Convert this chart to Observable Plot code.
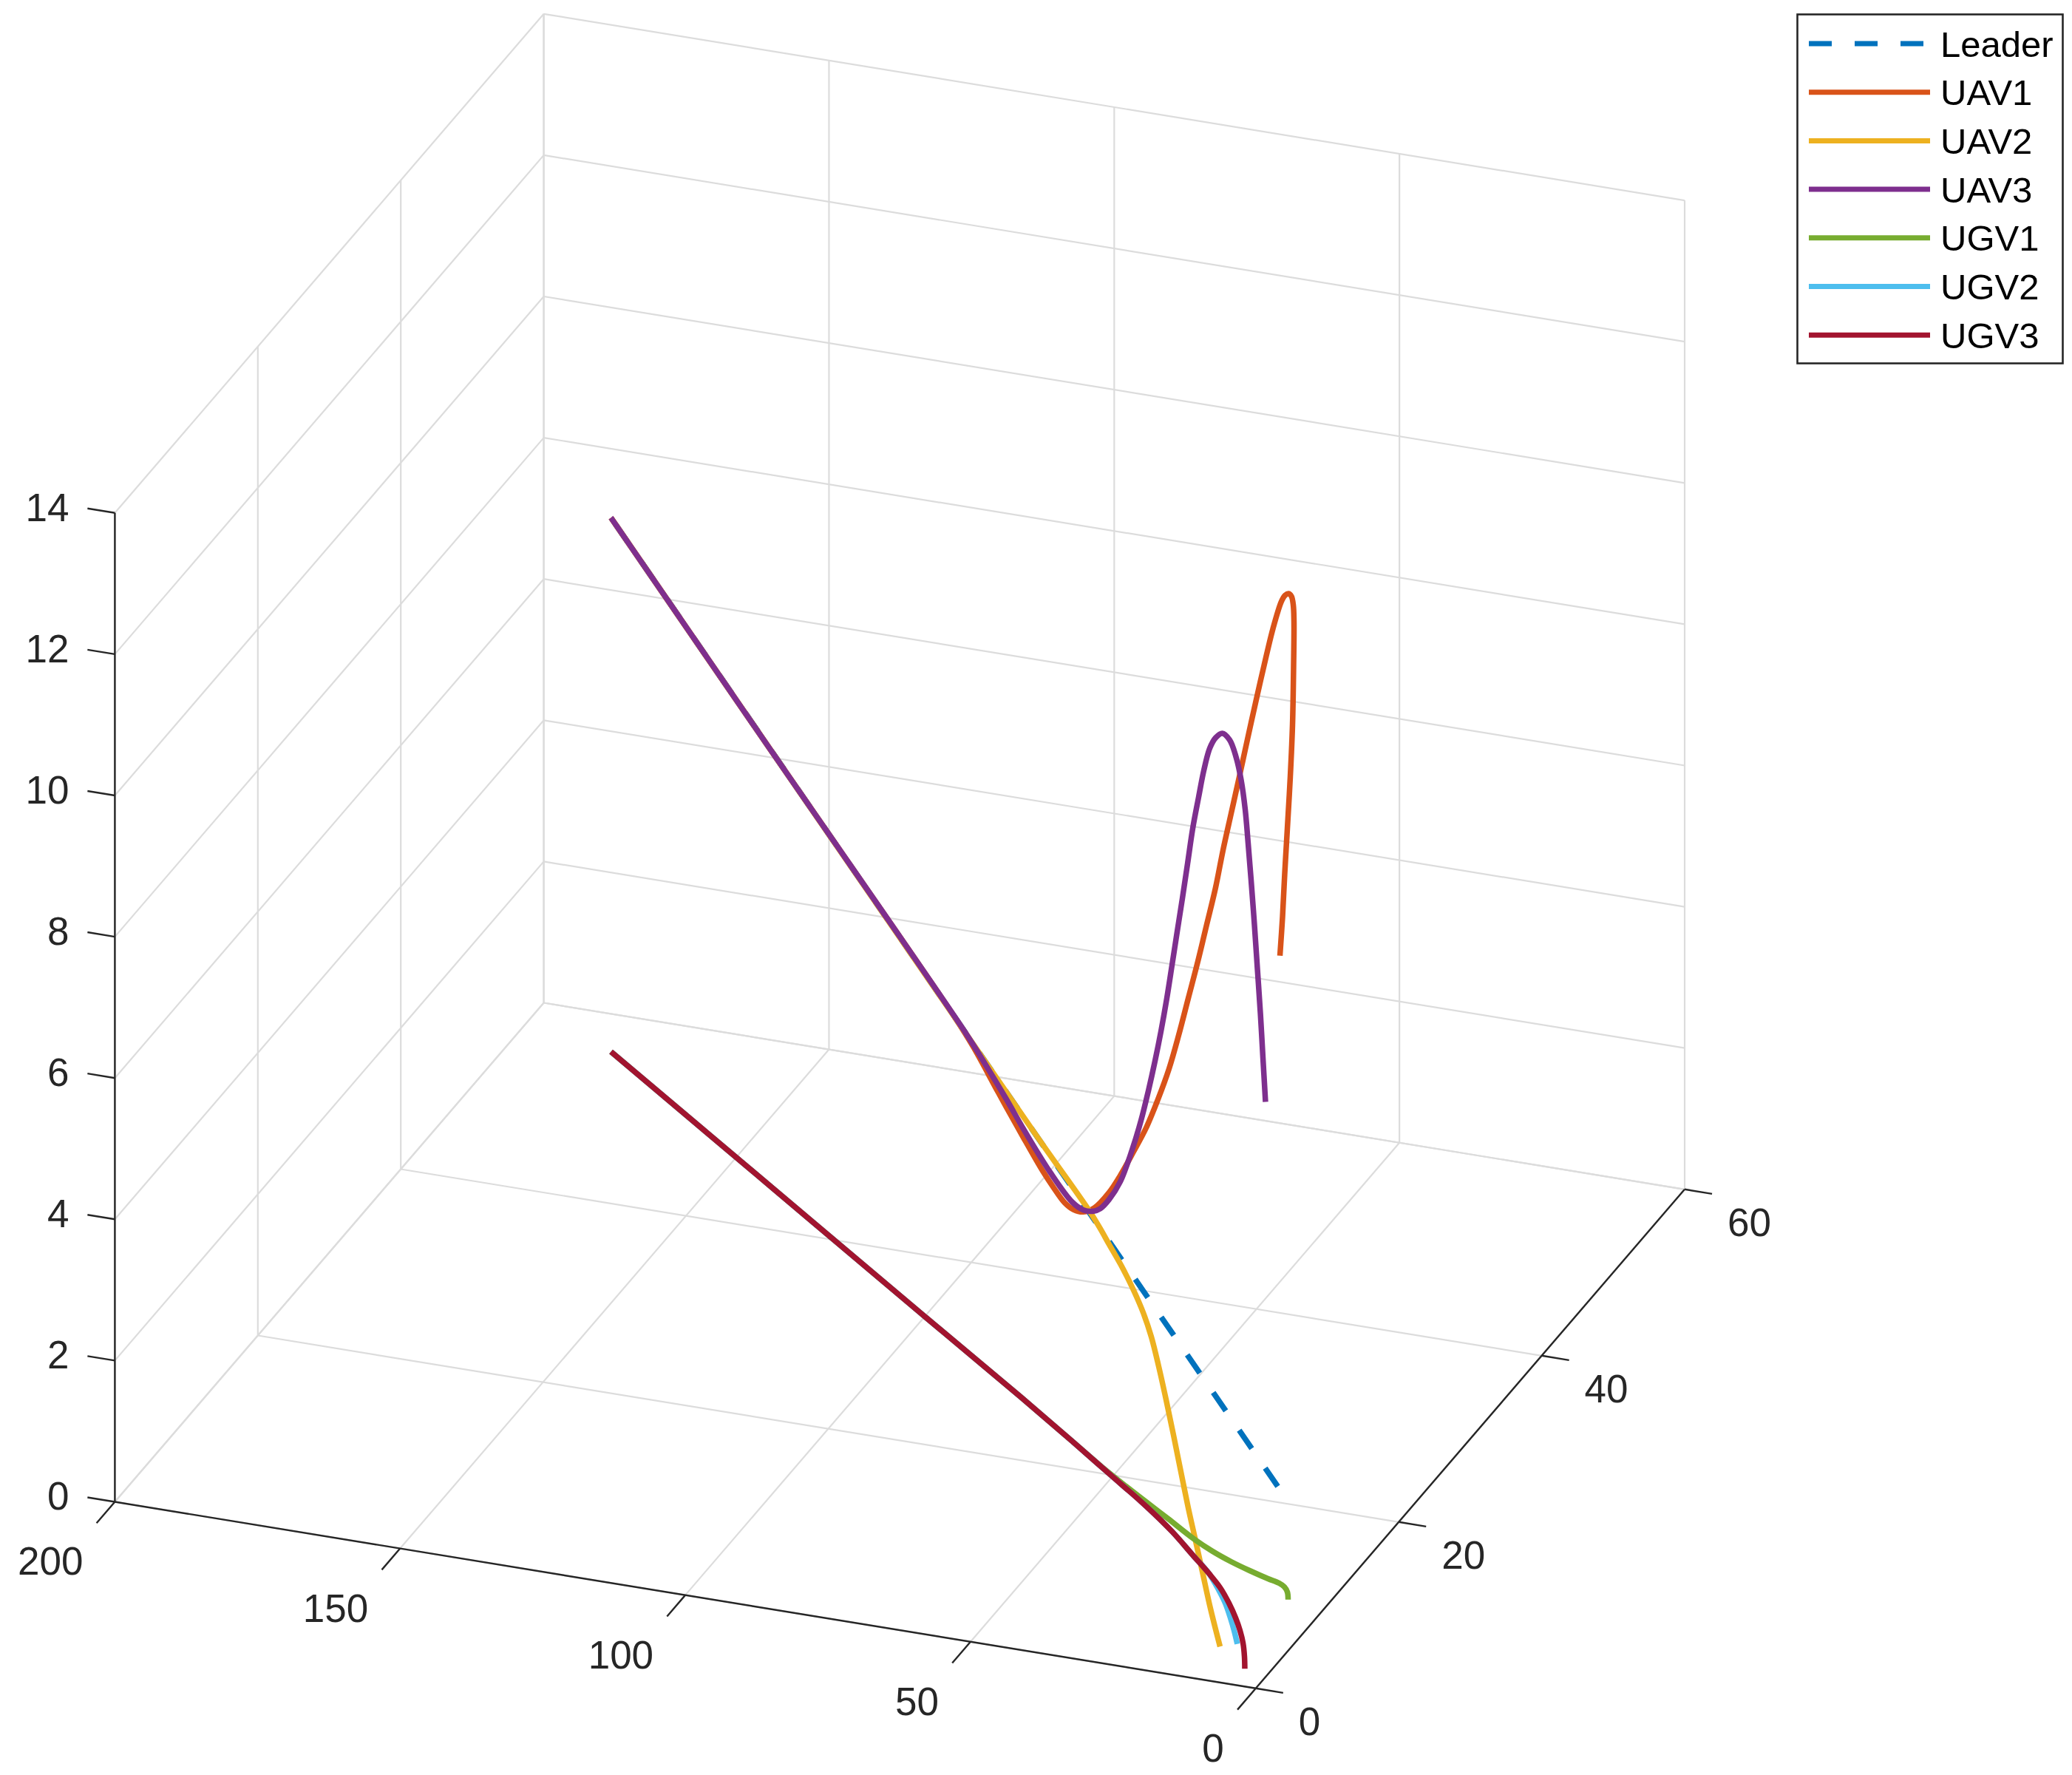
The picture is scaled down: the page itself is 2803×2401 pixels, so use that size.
<!DOCTYPE html>
<html>
<head>
<meta charset="utf-8">
<script src="https://cdn.jsdelivr.net/npm/d3@7"></script>
<script src="https://cdn.jsdelivr.net/npm/@observablehq/plot@0.6"></script>
<style>
  html, body { margin: 0; padding: 0; background: #ffffff; }
  #wrap { position: relative; width: 2803px; height: 2401px; overflow: hidden; }
  #legend { position: absolute; left: 2430px; top: 18px; }
</style>
</head>
<body>
<div id="wrap"><div id="chart"></div><div id="legend"></div></div>
<script>
// ---------- axis ticks / limits ----------
const xTicks = [0, 50, 100, 150, 200];
const yTicks = [0, 20, 40, 60];
const zTicks = [0, 2, 4, 6, 8, 10, 12, 14];
const xLim = [0, 200];
const yLim = [0, 60];
const zLim = [0, 14];

// ---------- series ----------
const seriesNames = ["Leader", "UAV1", "UAV2", "UAV3", "UGV1", "UGV2", "UGV3"];
const seriesColors = ["#0072BD", "#D95319", "#EDB120", "#7E2F8E", "#77AC30", "#4DBEEE", "#A2142F"];

const leaderX = [6.42, 183.2];
const leaderY = [8.2, 56.0];
const leaderZ = [1.81, 7.56];

const uav1X = [6, 6.8, 7.6, 8.4, 9.3, 10.2, 11.3, 12.2, 12.7, 13.1, 13.5, 14.0, 14.6, 16.5, 18.5, 20.5, 22.5, 24.5, 26.5, 28.5, 30.5, 32.5, 34.5, 36.5, 38.5, 40.5, 43, 46, 49, 52, 54, 56, 58, 60.51, 62.87, 65.81, 68.74, 74.04, 80.50, 86.97, 92.26, 140, 183.2];
const uav1Y = [8.17, 9.17, 10.12, 11.12, 12.25, 13.28, 14.31, 15.08, 15.38, 15.44, 15.37, 15.28, 15.24, 15.57, 15.92, 16.33, 16.79, 17.25, 17.70, 18.16, 18.72, 19.08, 19.44, 19.69, 19.94, 20.19, 20.63, 21.37, 22.01, 22.54, 22.59, 22.11, 22.16, 22.82, 23.46, 24.26, 25.04, 26.48, 28.22, 29.97, 31.41, 44.32, 56.0];
const uav1Z = [9.33, 9.75, 10.25, 10.75, 11.34, 11.94, 12.64, 13.17, 13.36, 13.47, 13.51, 13.49, 13.40, 12.95, 12.36, 11.76, 11.16, 10.55, 9.95, 9.35, 8.73, 8.14, 7.55, 6.97, 6.39, 5.86, 5.34, 4.81, 4.36, 3.92, 3.65, 3.46, 3.37, 3.29, 3.28, 3.36, 3.47, 3.72, 4.05, 4.39, 4.60, 6.15, 7.56];

const uav2X = [7, 9.5, 12, 14.5, 17, 20, 23, 26, 29, 32, 35.5, 39, 43, 48.5, 52.5, 56.34, 70, 100, 140, 183.2];
const uav2Y = [0.59, 1.24, 2.10, 3.06, 4.13, 5.48, 6.84, 8.20, 9.56, 10.92, 12.58, 14.03, 15.67, 18.20, 20.05, 21.69, 25.39, 33.50, 44.32, 56.0];
const uav2Z = [0.43, 0.86, 1.25, 1.58, 1.84, 2.16, 2.48, 2.78, 3.05, 3.27, 3.37, 3.47, 3.54, 3.50, 3.47, 3.46, 3.88, 4.85, 6.15, 7.56];

const uav3X = [6, 6.9, 7.8, 8.7, 9.6, 10.4, 11.1, 11.8, 12.5, 13.1, 13.6, 14.2, 15.2, 16.3, 17.8, 19.4, 21.2, 23.2, 25.2, 27.2, 29.3, 31.5, 33.8, 36.2, 38.8, 41.6, 44.6, 48.2, 51.2, 53.4, 55.4, 57.97, 60.91, 66.79, 73.31, 78.54, 83.84, 89.13, 140, 183.2];
const uav3Y = [6.15, 6.51, 6.87, 7.17, 7.47, 7.65, 7.79, 7.94, 7.93, 7.73, 7.20, 6.65, 6.52, 6.57, 6.93, 7.49, 8.10, 8.97, 9.84, 10.71, 11.67, 12.70, 13.71, 14.79, 15.94, 17.14, 18.29, 19.51, 20.35, 20.87, 21.43, 22.14, 22.93, 24.52, 26.28, 27.69, 29.13, 30.56, 44.32, 56.0];
const uav3Z = [7.50, 8.07, 8.65, 9.23, 9.81, 10.40, 10.90, 11.35, 11.76, 12.09, 12.40, 12.55, 12.49, 12.32, 11.94, 11.48, 10.94, 10.31, 9.69, 9.09, 8.48, 7.86, 7.24, 6.66, 6.07, 5.47, 4.88, 4.24, 3.85, 3.63, 3.50, 3.40, 3.38, 3.54, 3.81, 4.06, 4.29, 4.50, 6.15, 7.56];

const ugv1X = [6.75, 7.87, 9.01, 10.30, 12.59, 16.50, 20.51, 24.72, 29.17, 35.84, 41.49, 50.98, 60.86, 74.67, 100, 140, 183.2];
const ugv1Y = [9.91, 10.70, 11.19, 11.49, 11.77, 12.31, 12.93, 13.70, 14.67, 16.36, 17.77, 20.18, 22.89, 26.68, 33.50, 44.32, 56.0];
const ugv1Z = [0, 0, 0, 0, 0, 0, 0, 0, 0, 0, 0, 0, 0, 0, 0, 0, 0];

const ugv2X = [8.70, 10.98, 13.20, 15.95, 18.73, 22.36, 27.30, 33.61, 40.90, 50.88, 60.86, 74.67, 100, 140, 183.2];
const ugv2Y = [4.36, 5.73, 6.99, 8.46, 9.75, 11.30, 12.97, 15.10, 17.31, 20.10, 22.89, 26.68, 33.50, 44.32, 56.0];
const ugv2Z = [0, 0, 0, 0, 0, 0, 0, 0, 0, 0, 0, 0, 0, 0, 0];

const ugv3X = [4.28, 5.97, 7.95, 10.07, 12.41, 15.38, 18.80, 22.36, 27.30, 33.61, 40.90, 50.88, 60.86, 74.67, 100, 140, 183.2];
const ugv3Y = [1.88, 3.18, 4.56, 5.83, 7.08, 8.52, 10.01, 11.30, 12.97, 15.10, 17.31, 20.10, 22.89, 26.68, 33.50, 44.32, 56.0];
const ugv3Z = [0, 0, 0, 0, 0, 0, 0, 0, 0, 0, 0, 0, 0, 0, 0, 0, 0];

// ---------- 3D view (fixed oblique projection of the MATLAB camera) ----------
const view = { ox: 1698.3, oy: 2283.3, xx: -7.717, xy: -1.2615, yx: 9.67, yy: -11.25, zy: -95.55 };
function proj(x, y, z) {
  return [view.ox + view.xx * x + view.yx * y, view.oy + view.xy * x + view.yy * y + view.zy * z];
}
function track(name, X, Y, Z) {
  return X.map((x, i) => { const p = proj(x, Y[i], Z[i]); return { name, sx: p[0], sy: p[1] }; });
}
const series = [
  track("Leader", leaderX, leaderY, leaderZ),
  track("UAV1", uav1X, uav1Y, uav1Z),
  track("UAV2", uav2X, uav2Y, uav2Z),
  track("UAV3", uav3X, uav3Y, uav3Z),
  track("UGV1", ugv1X, ugv1Y, ugv1Z),
  track("UGV2", ugv2X, ugv2Y, ugv2Z),
  track("UGV3", ugv3X, ugv3Y, ugv3Z)
];

function seg(a, b) {
  const p = proj(...a), q = proj(...b);
  return { x1: p[0], y1: p[1], x2: q[0], y2: q[1] };
}

// grid on the three back planes
const grid = [];
for (const xt of xTicks) {
  grid.push(seg([xt, yLim[0], zLim[0]], [xt, yLim[1], zLim[0]]));
  grid.push(seg([xt, yLim[1], zLim[0]], [xt, yLim[1], zLim[1]]));
}
for (const yt of yTicks) {
  grid.push(seg([xLim[0], yt, zLim[0]], [xLim[1], yt, zLim[0]]));
  grid.push(seg([xLim[1], yt, zLim[0]], [xLim[1], yt, zLim[1]]));
}
for (const zt of zTicks) {
  grid.push(seg([xLim[0], yLim[1], zt], [xLim[1], yLim[1], zt]));
  grid.push(seg([xLim[1], yLim[0], zt], [xLim[1], yLim[1], zt]));
}

// axis lines and ticks
const tickX = 4.8, tickY = 2.56;
const axes = [
  seg([xLim[0], 0, 0], [xLim[1], 0, 0]),
  seg([0, yLim[0], 0], [0, yLim[1], 0]),
  seg([xLim[1], 0, zLim[0]], [xLim[1], 0, zLim[1]])
];
for (const xt of xTicks) axes.push(seg([xt, 0, 0], [xt, -tickY, 0]));
for (const yt of yTicks) axes.push(seg([0, yt, 0], [-tickX, yt, 0]));
for (const zt of zTicks) axes.push(seg([xLim[1], 0, zt], [xLim[1] + tickX, 0, zt]));

const xLab = xTicks.map(v => { const p = proj(v, 0, 0); return { sx: p[0], sy: p[1], t: String(v) }; });
const yLab = yTicks.map(v => { const p = proj(0, v, 0); return { sx: p[0], sy: p[1], t: String(v) }; });
const zLab = zTicks.map(v => { const p = proj(xLim[1], 0, v); return { sx: p[0], sy: p[1], t: String(v) }; });

const ink = "#262626";
const font = "'Liberation Sans', Arial, Helvetica, sans-serif";

const lineMarks = series.map((d, i) => Plot.line(d, {
  x: "sx", y: "sy",
  stroke: seriesColors[i],
  strokeWidth: 7.5,
  curve: i === 0 ? "linear" : "catmull-rom",
  strokeLinecap: "butt",
  strokeLinejoin: "round",
  strokeDasharray: i === 0 ? "30,32" : null
}));

const chart = Plot.plot({
  width: 2803,
  height: 2401,
  margin: 0,
  style: { fontFamily: font, background: "#ffffff" },
  x: { type: "linear", domain: [0, 2803], range: [0, 2803], axis: null },
  y: { type: "linear", domain: [0, 2401], range: [0, 2401], axis: null },
  marks: [
    Plot.link(grid, { x1: "x1", y1: "y1", x2: "x2", y2: "y2", stroke: "#dcdcdc", strokeWidth: 2.2 }),
    Plot.link(axes, { x1: "x1", y1: "y1", x2: "x2", y2: "y2", stroke: ink, strokeWidth: 2.4 }),
    Plot.text(xLab, { x: "sx", y: "sy", text: "t", dx: -43, dy: 82, textAnchor: "end", fontSize: 53, fill: ink }),
    Plot.text(yLab, { x: "sx", y: "sy", text: "t", dx: 58, dy: 46, textAnchor: "start", fontSize: 53, fill: ink }),
    Plot.text(zLab, { x: "sx", y: "sy", text: "t", dx: -62, dy: -6, textAnchor: "end", fontSize: 53, fill: ink }),
    ...lineMarks
  ]
});
document.getElementById("chart").appendChild(chart);

// ---------- legend ----------
const lg = d3.select("#legend").append("svg").attr("width", 364).attr("height", 478);
lg.append("rect").attr("x", 1.5).attr("y", 1.5).attr("width", 359).attr("height", 472)
  .attr("fill", "#ffffff").attr("stroke", ink).attr("stroke-width", 2.6);
seriesNames.forEach((name, i) => {
  const cy = 41 + i * 65.7;
  lg.append("line").attr("x1", 17).attr("x2", 181).attr("y1", cy).attr("y2", cy)
    .attr("stroke", seriesColors[i]).attr("stroke-width", 7)
    .attr("stroke-dasharray", i === 0 ? "31,31" : null);
  lg.append("text").attr("x", 195).attr("y", cy).attr("dy", "0.36em")
    .attr("font-family", font).attr("font-size", 49).attr("fill", "#000000").text(name);
});
</script>
</body>
</html>
